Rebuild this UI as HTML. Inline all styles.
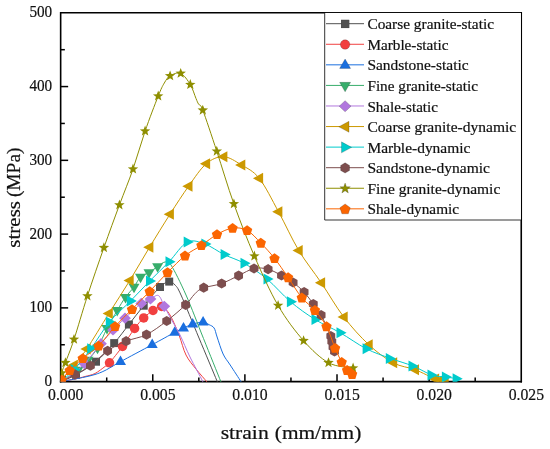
<!DOCTYPE html>
<html lang="en"><head><meta charset="utf-8"><title>Stress-strain curves</title>
<style>html,body{margin:0;padding:0;background:#fff}body{width:550px;height:449px;overflow:hidden}svg{display:block}</style>
</head><body>
<svg width="550" height="449" viewBox="0 0 550 449">
<defs>
<g id="m-square"><rect x="-4.0" y="-4.0" width="8.0" height="8.0"/></g>
<g id="m-circle"><circle r="4.75"/></g>
<g id="m-up"><path d="M0,-6.1 L5.5,3.3 L-5.5,3.3Z"/></g>
<g id="m-down"><path d="M0,6.2 L5.5,-3.3 L-5.5,-3.3Z"/></g>
<g id="m-diamond"><path d="M0,-5.6 L5.9,0 L0,5.6 L-5.9,0Z"/></g>
<g id="m-left"><path d="M-6.3,0 L3.9,-5.5 L3.9,5.5Z"/></g>
<g id="m-right"><path d="M6.5,0 L-3.6,-5.5 L-3.6,5.5Z"/></g>
<g id="m-hexagon"><path d="M0,-5.1 L4.42,-2.55 L4.42,2.55 L0,5.1 L-4.42,2.55 L-4.42,-2.55Z"/></g>
<g id="m-star"><path d="M0,-5.5 L1.35,-1.86 L5.23,-1.7 L2.19,0.71 L3.23,4.45 L0,2.3 L-3.23,4.45 L-2.19,0.71 L-5.23,-1.7 L-1.35,-1.86Z"/></g>
<g id="m-pentagon"><path d="M0,-5.15 L5.18,-1.38 L3.2,4.71 L-3.2,4.71 L-5.18,-1.38Z"/></g>
<clipPath id="cp"><rect x="60.65" y="12.8" width="460.6" height="368.85"/></clipPath>
</defs>
<rect width="550" height="449" fill="#fff"/>
<g stroke="#000" stroke-width="1.6" fill="none" stroke-linecap="square">
<path d="M60.65,381.65 V12.8 H521.25 V381.65"/>
<path d="M60.65,381.65 H521.25"/>
</g>
<g stroke="#000" stroke-width="1.5" fill="none">
<path d="M106.71,381.65 v-4.2"/>
<path d="M152.77,381.65 v-7.5"/>
<path d="M198.83,381.65 v-4.2"/>
<path d="M244.89,381.65 v-7.5"/>
<path d="M290.95,381.65 v-4.2"/>
<path d="M337.01,381.65 v-7.5"/>
<path d="M383.07,381.65 v-4.2"/>
<path d="M429.13,381.65 v-7.5"/>
<path d="M475.19,381.65 v-4.2"/>
<path d="M60.65,344.76 h4.2"/>
<path d="M60.65,307.88 h7.5"/>
<path d="M60.65,271 h4.2"/>
<path d="M60.65,234.11 h7.5"/>
<path d="M60.65,197.22 h4.2"/>
<path d="M60.65,160.34 h7.5"/>
<path d="M60.65,123.45 h4.2"/>
<path d="M60.65,86.57 h7.5"/>
<path d="M60.65,49.69 h4.2"/>
</g>
<g clip-path="url(#cp)">
<g fill="#515151" stroke="none">
<path d="M60.65,381.65 C63.21,380.51 70.11,378.12 76,374.8 C81.89,371.48 89.63,366.98 96,361.7 C102.37,356.42 108.72,349.3 114.2,343.1 C119.68,336.9 123.98,330.73 128.9,324.5 C133.82,318.27 138.52,311.95 143.7,305.7 C148.88,299.45 155.75,291.02 160,287 C164.25,282.98 166.7,281.93 169.2,281.6 C171.7,281.27 173.03,282.77 175,285 C176.97,287.23 177,286.17 181,295 C185,303.83 193,323.67 199,338 C205,352.33 213.83,373.33 217,381 C220.17,388.67 217.83,383.5 218,384" fill="none" stroke="#515151" stroke-width="1.0" stroke-linejoin="round"/>
<use href="#m-square" x="62" y="380"/>
<use href="#m-square" x="76" y="374.8"/>
<use href="#m-square" x="96" y="361.7"/>
<use href="#m-square" x="114.2" y="343.1"/>
<use href="#m-square" x="128.9" y="324.5"/>
<use href="#m-square" x="143.7" y="305.7"/>
<use href="#m-square" x="160" y="287"/>
<use href="#m-square" x="169.2" y="281.6"/>
</g>
<g fill="#F14040" stroke="none">
<path d="M60.65,381.65 C63.04,381.21 70.94,379.86 75,379 C79.06,378.14 81.67,377.42 85,376.5 C88.33,375.58 91.67,375.17 95,373.5 C98.33,371.83 102.58,368.28 105,366.5 C107.42,364.72 106.58,366.15 109.5,362.8 C112.42,359.45 118.32,352.13 122.5,346.4 C126.68,340.67 131.07,333.15 134.6,328.4 C138.13,323.65 140.63,320.88 143.7,317.9 C146.77,314.92 150.02,312.4 153,310.5 C155.98,308.6 158.77,305.75 161.6,306.5 C164.43,307.25 167.1,310.25 170,315 C172.9,319.75 176.33,328.33 179,335 C181.67,341.67 183.17,349.33 186,355 C188.83,360.67 192.5,364.5 196,369 C199.5,373.5 205,379.5 207,382 C209,384.5 207.83,383.67 208,384" fill="none" stroke="#F14040" stroke-width="1.0" stroke-linejoin="round"/>
<use href="#m-circle" x="109.5" y="362.8"/>
<use href="#m-circle" x="122.5" y="346.4"/>
<use href="#m-circle" x="134.6" y="328.4"/>
<use href="#m-circle" x="143.7" y="317.9"/>
<use href="#m-circle" x="153" y="310.5"/>
<use href="#m-circle" x="161.6" y="306.5"/>
</g>
<g fill="#1A6FDF" stroke="none">
<path d="M60.65,381.65 C63.04,381.21 70.94,379.77 75,379 C79.06,378.23 81.67,377.75 85,377 C88.33,376.25 91.67,375.58 95,374.5 C98.33,373.42 100.75,372.63 105,370.5 C109.25,368.37 112.63,366 120.5,361.7 C128.37,357.4 143.17,349.58 152.2,344.7 C161.23,339.82 169.48,335.17 174.7,332.4 C179.92,329.63 180.5,329.48 183.5,328.1 C186.5,326.72 189.43,325.1 192.7,324.1 C195.97,323.1 200.37,322 203.1,322.1 C205.83,322.2 207.27,323.72 209.1,324.7 C210.93,325.68 212.77,325.95 214.1,328 C215.43,330.05 215.6,332.67 217.1,337 C218.6,341.33 220.92,349.33 223.1,354 C225.28,358.67 227.18,360.33 230.2,365 C233.22,369.67 239.23,378.83 241.2,382 C243.17,385.17 241.87,383.67 242,384" fill="none" stroke="#1A6FDF" stroke-width="1.0" stroke-linejoin="round"/>
<use href="#m-up" x="120.5" y="361.7"/>
<use href="#m-up" x="152.2" y="344.7"/>
<use href="#m-up" x="174.7" y="332.4"/>
<use href="#m-up" x="183.5" y="328.1"/>
<use href="#m-up" x="192.7" y="324.1"/>
<use href="#m-up" x="203.1" y="322.1"/>
</g>
<g fill="#37AD6B" stroke="none">
<path d="M60.65,381.65 C63.54,379.71 73.44,373.61 78,370 C82.56,366.39 84.75,363.67 88,360 C91.25,356.33 94.33,353.27 97.5,348 C100.67,342.73 103.72,334.67 107,328.4 C110.28,322.13 114.12,315.6 117.2,310.4 C120.28,305.2 122.7,301.1 125.5,297.2 C128.3,293.3 131.5,290.37 134,287 C136.5,283.63 138,279.42 140.5,277 C143,274.58 146.15,274.25 149,272.5 C151.85,270.75 154.93,268.25 157.6,266.5 C160.27,264.75 162.77,262.25 165,262 C167.23,261.75 167.5,259.5 171,265 C174.5,270.5 180.58,282.75 186,295 C191.42,307.25 197.67,324 203.5,338.5 C209.33,353 217.92,374.42 221,382 C224.08,389.58 221.83,383.67 222,384" fill="none" stroke="#37AD6B" stroke-width="1.0" stroke-linejoin="round"/>
<use href="#m-down" x="78" y="370"/>
<use href="#m-down" x="88" y="360"/>
<use href="#m-down" x="97.5" y="348"/>
<use href="#m-down" x="107" y="328.4"/>
<use href="#m-down" x="117.2" y="310.4"/>
<use href="#m-down" x="125.5" y="297.2"/>
<use href="#m-down" x="134" y="287"/>
<use href="#m-down" x="140.5" y="277"/>
<use href="#m-down" x="149" y="272.5"/>
<use href="#m-down" x="157.6" y="266.5"/>
</g>
<g fill="#B177DE" stroke="none">
<path d="M60.65,381.65 C62.21,380.71 66.04,378.99 70,376 C73.96,373.01 79.23,369.08 84.4,363.7 C89.57,358.32 96.23,349.32 101,343.7 C105.77,338.08 109,334.25 113,330 C117,325.75 120.28,322.63 125,318.2 C129.72,313.77 137.05,306.62 141.3,303.4 C145.55,300.18 147.63,300.2 150.5,298.9 C153.37,297.6 156.2,294.37 158.5,295.6 C160.8,296.83 162.38,302.73 164.3,306.3 C166.22,309.87 167.38,312.22 170,317 C172.62,321.78 176.67,328.33 180,335 C183.33,341.67 186.25,349.33 190,357 C193.75,364.67 200.25,376.5 202.5,381 C204.75,385.5 203.33,383.5 203.5,384" fill="none" stroke="#B177DE" stroke-width="1.0" stroke-linejoin="round"/>
<use href="#m-diamond" x="84.4" y="363.7"/>
<use href="#m-diamond" x="101" y="343.7"/>
<use href="#m-diamond" x="113" y="330"/>
<use href="#m-diamond" x="125" y="318.2"/>
<use href="#m-diamond" x="141.3" y="303.4"/>
<use href="#m-diamond" x="150.5" y="298.9"/>
<use href="#m-diamond" x="164.3" y="306.3"/>
</g>
<g fill="#CC9900" stroke="none">
<path d="M60.65,381.65 C62.84,378.92 69.46,370.74 73.8,365.3 C78.14,359.86 80.85,357.63 86.7,349 C92.55,340.37 101.72,324.92 108.9,313.5 C116.08,302.08 123.03,291.53 129.8,280.5 C136.57,269.47 142.8,258.35 149.5,247.3 C156.2,236.25 163.48,224.38 170,214.2 C176.52,204.02 182.57,194.6 188.6,186.2 C194.63,177.8 200.38,168.72 206.2,163.8 C212.02,158.88 217.63,156.52 223.5,156.7 C229.37,156.88 235.45,161.3 241.4,164.9 C247.35,168.5 253.02,170.5 259.2,178.3 C265.38,186.1 271.9,199.67 278.5,211.7 C285.1,223.73 291.68,238.67 298.8,250.5 C305.92,262.33 313.7,271.62 321.2,282.7 C328.7,293.78 335.87,306.67 343.8,317 C351.73,327.33 360.55,337.07 368.8,344.7 C377.05,352.33 385.58,358.63 393.3,362.8 C401.02,366.97 408.12,367 415.1,369.7 C422.08,372.4 431.05,377.25 435.2,379 C439.35,380.75 438.4,379.88 440,380.2 C441.6,380.52 444,380.78 444.8,380.9" fill="none" stroke="#CC9900" stroke-width="1.0" stroke-linejoin="round"/>
<use href="#m-left" x="73.8" y="365.3"/>
<use href="#m-left" x="86.7" y="349"/>
<use href="#m-left" x="108.9" y="313.5"/>
<use href="#m-left" x="129.8" y="280.5"/>
<use href="#m-left" x="149.5" y="247.3"/>
<use href="#m-left" x="170" y="214.2"/>
<use href="#m-left" x="188.6" y="186.2"/>
<use href="#m-left" x="206.2" y="163.8"/>
<use href="#m-left" x="223.5" y="156.7"/>
<use href="#m-left" x="241.4" y="164.9"/>
<use href="#m-left" x="259.2" y="178.3"/>
<use href="#m-left" x="278.5" y="211.7"/>
<use href="#m-left" x="298.8" y="250.5"/>
<use href="#m-left" x="321.2" y="282.7"/>
<use href="#m-left" x="343.8" y="317"/>
<use href="#m-left" x="368.8" y="344.7"/>
<use href="#m-left" x="393.3" y="362.8"/>
<use href="#m-left" x="415.1" y="369.7"/>
<use href="#m-left" x="435.2" y="379"/>
<use href="#m-left" x="440" y="380.2"/>
<use href="#m-left" x="444.8" y="380.9"/>
</g>
<g fill="#00CBCC" stroke="none">
<path d="M60.65,381.65 C62.91,379.62 69.17,374.98 74.2,369.5 C79.23,364.02 84.93,356.7 90.8,348.8 C96.67,340.9 102.8,330.05 109.4,322.1 C116,314.15 123.7,307.93 130.4,301.1 C137.1,294.27 143.15,287.67 149.6,281.1 C156.05,274.53 162.82,268.2 169.1,261.7 C175.38,255.2 181.32,245.03 187.3,242.1 C193.28,239.17 198.85,242.02 205,244.1 C211.15,246.18 217.68,251.4 224.2,254.6 C230.72,257.8 236.95,259.22 244.1,263.3 C251.25,267.38 259.37,272.7 267.1,279.1 C274.83,285.5 282.5,294.97 290.5,301.7 C298.5,308.43 306.83,314.33 315.1,319.5 C323.37,324.67 331.58,327.83 340.1,332.7 C348.62,337.57 357.82,344.42 366.2,348.7 C374.58,352.98 382.58,355.5 390.4,358.4 C398.22,361.3 406.15,363.32 413.1,366.1 C420.05,368.88 426.53,373.27 432.1,375.1 C437.67,376.93 442.32,376.5 446.5,377.1 C450.68,377.7 455.42,378.43 457.2,378.7" fill="none" stroke="#00CBCC" stroke-width="1.0" stroke-linejoin="round"/>
<use href="#m-right" x="74.2" y="369.5"/>
<use href="#m-right" x="90.8" y="348.8"/>
<use href="#m-right" x="109.4" y="322.1"/>
<use href="#m-right" x="130.4" y="301.1"/>
<use href="#m-right" x="149.6" y="281.1"/>
<use href="#m-right" x="169.1" y="261.7"/>
<use href="#m-right" x="187.3" y="242.1"/>
<use href="#m-right" x="205" y="244.1"/>
<use href="#m-right" x="224.2" y="254.6"/>
<use href="#m-right" x="244.1" y="263.3"/>
<use href="#m-right" x="267.1" y="279.1"/>
<use href="#m-right" x="290.5" y="301.7"/>
<use href="#m-right" x="315.1" y="319.5"/>
<use href="#m-right" x="340.1" y="332.7"/>
<use href="#m-right" x="366.2" y="348.7"/>
<use href="#m-right" x="389.4" y="358.4"/>
<use href="#m-right" x="412.1" y="366.1"/>
<use href="#m-right" x="431.1" y="375.1"/>
<use href="#m-right" x="445.5" y="377.1"/>
<use href="#m-right" x="456.2" y="378.7"/>
</g>
<g fill="#7D4E4E" stroke="none">
<path d="M60.65,381.65 C63.04,380.44 70.04,377.06 75,374.4 C79.96,371.74 84.97,369.63 90.4,365.7 C95.83,361.77 101.65,354.88 107.6,350.8 C113.55,346.72 119.62,343.9 126.1,341.2 C132.58,338.5 139.73,337.97 146.5,334.6 C153.27,331.23 160.18,325.95 166.7,321 C173.22,316.05 181.28,309 185.6,304.9 C189.92,300.8 190.6,298.68 192.6,296.4 C194.6,294.12 195.75,292.65 197.6,291.2 C199.45,289.75 199.7,288.98 203.7,287.7 C207.7,286.42 215.78,285.52 221.6,283.5 C227.42,281.48 233.2,278.1 238.6,275.6 C244,273.1 249.08,269.57 254,268.5 C258.92,267.43 263.52,268.03 268.1,269.2 C272.68,270.37 277.33,273.28 281.5,275.5 C285.67,277.72 289.33,279.73 293.1,282.5 C296.87,285.27 300.73,288.52 304.1,292.1 C307.47,295.68 310.47,300.17 313.3,304 C316.13,307.83 318.18,309.77 321.1,315.1 C324.02,320.43 329.02,331.6 330.8,336 C332.58,340.4 331.43,339.67 331.8,341.5 C332.17,343.33 332.55,345.33 333,347 C333.45,348.67 334.25,350.75 334.5,351.5" fill="none" stroke="#7D4E4E" stroke-width="1.0" stroke-linejoin="round"/>
<use href="#m-hexagon" x="75" y="374.4"/>
<use href="#m-hexagon" x="90.4" y="365.7"/>
<use href="#m-hexagon" x="107.6" y="350.8"/>
<use href="#m-hexagon" x="126.1" y="341.2"/>
<use href="#m-hexagon" x="146.5" y="334.6"/>
<use href="#m-hexagon" x="166.7" y="321"/>
<use href="#m-hexagon" x="185.6" y="304.9"/>
<use href="#m-hexagon" x="203.7" y="287.7"/>
<use href="#m-hexagon" x="221.6" y="283.5"/>
<use href="#m-hexagon" x="238.6" y="275.6"/>
<use href="#m-hexagon" x="254" y="268.5"/>
<use href="#m-hexagon" x="268.1" y="269.2"/>
<use href="#m-hexagon" x="281.5" y="275.5"/>
<use href="#m-hexagon" x="293.1" y="282.5"/>
<use href="#m-hexagon" x="304.1" y="292.1"/>
<use href="#m-hexagon" x="313.3" y="304"/>
<use href="#m-hexagon" x="321.1" y="315.1"/>
<use href="#m-hexagon" x="330.8" y="336"/>
<use href="#m-hexagon" x="331.8" y="341.5"/>
<use href="#m-hexagon" x="333" y="347"/>
<use href="#m-hexagon" x="334.5" y="351.5"/>
</g>
<g fill="#8E8E00" stroke="none">
<path d="M60.65,381.65 C60.83,380.21 60.91,376.16 61.7,373 C62.49,369.84 63.35,368.3 65.4,362.7 C67.45,357.1 70.33,350.52 74,339.4 C77.67,328.28 82.42,311.28 87.4,296 C92.38,280.72 98.57,262.87 103.9,247.7 C109.23,232.53 114.55,218.1 119.4,205 C124.25,191.9 128.72,181.42 133,169.1 C137.28,156.78 140.9,143.27 145.1,131.1 C149.3,118.93 155,104.12 158.2,96.1 C161.4,88.08 162.32,86.37 164.3,83 C166.28,79.63 167.37,77.5 170.1,75.9 C172.83,74.3 177.33,71.95 180.7,73.4 C184.07,74.85 187.75,80.42 190.3,84.6 C192.85,88.78 194.62,95.23 196,98.5 C197.38,101.77 197.47,102.25 198.6,104.2 C199.73,106.15 199.77,102.35 202.8,110.2 C205.83,118.05 211.62,135.68 216.8,151.3 C221.98,166.92 227.63,186.43 233.9,203.9 C240.17,221.37 247.03,239.17 254.4,256.1 C261.77,273.03 269.9,291.4 278.1,305.5 C286.3,319.6 295.2,331.17 303.6,340.7 C312,350.23 320.25,358.13 328.5,362.7 C336.75,367.27 349,367.2 353.1,368.1" fill="none" stroke="#8E8E00" stroke-width="1.0" stroke-linejoin="round"/>
<use href="#m-star" x="61.7" y="373"/>
<use href="#m-star" x="65.4" y="362.7"/>
<use href="#m-star" x="74" y="339.4"/>
<use href="#m-star" x="87.4" y="296"/>
<use href="#m-star" x="103.9" y="247.7"/>
<use href="#m-star" x="119.4" y="205"/>
<use href="#m-star" x="133" y="169.1"/>
<use href="#m-star" x="145.1" y="131.1"/>
<use href="#m-star" x="158.2" y="96.1"/>
<use href="#m-star" x="170.1" y="75.9"/>
<use href="#m-star" x="180.7" y="73.4"/>
<use href="#m-star" x="190.3" y="84.6"/>
<use href="#m-star" x="202.8" y="110.2"/>
<use href="#m-star" x="216.8" y="151.3"/>
<use href="#m-star" x="233.9" y="203.9"/>
<use href="#m-star" x="254.4" y="256.1"/>
<use href="#m-star" x="278.1" y="305.5"/>
<use href="#m-star" x="303.6" y="340.7"/>
<use href="#m-star" x="328.5" y="362.7"/>
<use href="#m-star" x="353.1" y="368.1"/>
</g>
<g fill="#FB6501" stroke="none">
<path d="M61.7,379.8 C63.03,378.23 66.2,373.97 69.7,370.4 C73.2,366.83 77.88,362.48 82.7,358.4 C87.52,354.32 93.2,351.25 98.6,345.9 C104,340.55 109.53,332.4 115.1,326.3 C120.67,320.2 126.23,315.12 132,309.3 C137.77,303.48 143.78,297.53 149.7,291.4 C155.62,285.27 161.62,278.45 167.5,272.5 C173.38,266.55 179.35,260.22 185,255.7 C190.65,251.18 196.07,248.95 201.4,245.4 C206.73,241.85 211.8,237.28 217,234.4 C222.2,231.52 227.58,228.77 232.6,228.1 C237.62,227.43 242.4,227.92 247.1,230.4 C251.8,232.88 256.23,238.35 260.8,243 C265.37,247.65 269.95,252.55 274.5,258.3 C279.05,264.05 283.55,270.93 288.1,277.5 C292.65,284.07 297.33,292.25 301.8,297.7 C306.27,303.15 310.78,305.4 314.9,310.2 C319.02,315 323.13,320.18 326.5,326.5 C329.87,332.82 332.57,342.17 335.1,348.1 C337.63,354.03 339.7,358.42 341.7,362.1 C343.7,365.78 345.37,368.18 347.1,370.2 C348.83,372.22 351.27,373.53 352.1,374.2" fill="none" stroke="#FB6501" stroke-width="1.0" stroke-linejoin="round"/>
<use href="#m-pentagon" x="61.7" y="379.8"/>
<use href="#m-pentagon" x="69.7" y="370.4"/>
<use href="#m-pentagon" x="82.7" y="358.4"/>
<use href="#m-pentagon" x="98.6" y="345.9"/>
<use href="#m-pentagon" x="115.1" y="326.3"/>
<use href="#m-pentagon" x="132" y="309.3"/>
<use href="#m-pentagon" x="149.7" y="291.4"/>
<use href="#m-pentagon" x="167.5" y="272.5"/>
<use href="#m-pentagon" x="185" y="255.7"/>
<use href="#m-pentagon" x="201.4" y="245.4"/>
<use href="#m-pentagon" x="217" y="234.4"/>
<use href="#m-pentagon" x="232.6" y="228.1"/>
<use href="#m-pentagon" x="247.1" y="230.4"/>
<use href="#m-pentagon" x="260.8" y="243"/>
<use href="#m-pentagon" x="274.5" y="258.3"/>
<use href="#m-pentagon" x="288.1" y="277.5"/>
<use href="#m-pentagon" x="301.8" y="297.7"/>
<use href="#m-pentagon" x="314.9" y="310.2"/>
<use href="#m-pentagon" x="326.5" y="326.5"/>
<use href="#m-pentagon" x="335.1" y="348.1"/>
<use href="#m-pentagon" x="341.7" y="362.1"/>
<use href="#m-pentagon" x="347.1" y="370.2"/>
<use href="#m-pentagon" x="352.1" y="374.2"/>
</g>
</g>
<g font-family="'Liberation Serif', 'DejaVu Serif', serif" font-size="16.5" fill="#111" stroke="#111" stroke-width="0.2">
<text x="65.75" y="400.0" text-anchor="middle" textLength="35.4" lengthAdjust="spacingAndGlyphs">0.000</text>
<text x="157.87" y="400.0" text-anchor="middle" textLength="35.4" lengthAdjust="spacingAndGlyphs">0.005</text>
<text x="249.99" y="400.0" text-anchor="middle" textLength="35.4" lengthAdjust="spacingAndGlyphs">0.010</text>
<text x="342.11" y="400.0" text-anchor="middle" textLength="35.4" lengthAdjust="spacingAndGlyphs">0.015</text>
<text x="434.23" y="400.0" text-anchor="middle" textLength="35.4" lengthAdjust="spacingAndGlyphs">0.020</text>
<text x="526.35" y="400.0" text-anchor="middle" textLength="35.4" lengthAdjust="spacingAndGlyphs">0.025</text>
<text x="52.2" y="386.15" text-anchor="end" textLength="7.6" lengthAdjust="spacingAndGlyphs">0</text>
<text x="52.2" y="312.38" text-anchor="end" textLength="22.8" lengthAdjust="spacingAndGlyphs">100</text>
<text x="52.2" y="238.61" text-anchor="end" textLength="22.8" lengthAdjust="spacingAndGlyphs">200</text>
<text x="52.2" y="164.84" text-anchor="end" textLength="22.8" lengthAdjust="spacingAndGlyphs">300</text>
<text x="52.2" y="91.07" text-anchor="end" textLength="22.8" lengthAdjust="spacingAndGlyphs">400</text>
<text x="52.2" y="17.3" text-anchor="end" textLength="22.8" lengthAdjust="spacingAndGlyphs">500</text>
</g>
<text font-family="'Liberation Serif', 'DejaVu Serif', serif" font-size="18.5" fill="#111" stroke="#111" stroke-width="0.2" y="438.5"><tspan x="220.7" textLength="48" lengthAdjust="spacingAndGlyphs">strain</tspan> <tspan x="274.8" textLength="86.5" lengthAdjust="spacingAndGlyphs">(mm/mm)</tspan></text>
<text font-family="'Liberation Serif', 'DejaVu Serif', serif" font-size="18.5" fill="#111" stroke="#111" stroke-width="0.2" transform="translate(19.6,247.7) rotate(-90)"><tspan x="0" textLength="46.7" lengthAdjust="spacingAndGlyphs">stress</tspan> <tspan x="50.6" textLength="49.6" lengthAdjust="spacingAndGlyphs">(MPa)</tspan></text>
<rect x="324.7" y="12.95" width="196.25" height="207.05" fill="#fff"/>
<path d="M324.7,12.9 V220 H520.95" fill="none" stroke="#2a2a2a" stroke-width="0.95"/>
<g font-family="'Liberation Serif', 'DejaVu Serif', serif" font-size="14.8" fill="#111" stroke="#111" stroke-width="0.2">
<path d="M326,23.7 H364" stroke="#515151" stroke-width="1.0" fill="none"/>
<use href="#m-square" x="345.1" y="23.95" fill="#515151"/>
<text x="367.4" y="29.3" textLength="126.6" lengthAdjust="spacingAndGlyphs">Coarse granite-static</text>
<path d="M326,44.27 H364" stroke="#F14040" stroke-width="1.0" fill="none"/>
<use href="#m-circle" x="345.1" y="44.52" fill="#F14040"/>
<text x="367.4" y="49.87" textLength="81.2" lengthAdjust="spacingAndGlyphs">Marble-static</text>
<path d="M326,64.84 H364" stroke="#1A6FDF" stroke-width="1.0" fill="none"/>
<use href="#m-up" x="345.1" y="65.09" fill="#1A6FDF"/>
<text x="367.4" y="70.44" textLength="101.2" lengthAdjust="spacingAndGlyphs">Sandstone-static</text>
<path d="M326,85.41 H364" stroke="#37AD6B" stroke-width="1.0" fill="none"/>
<use href="#m-down" x="345.1" y="85.66" fill="#37AD6B"/>
<text x="367.4" y="91.01" textLength="110.6" lengthAdjust="spacingAndGlyphs">Fine granite-static</text>
<path d="M326,105.98 H364" stroke="#B177DE" stroke-width="1.0" fill="none"/>
<use href="#m-diamond" x="345.1" y="106.23" fill="#B177DE"/>
<text x="367.4" y="111.58" textLength="70.6" lengthAdjust="spacingAndGlyphs">Shale-static</text>
<path d="M326,126.55 H364" stroke="#CC9900" stroke-width="1.0" fill="none"/>
<use href="#m-left" x="345.1" y="126.8" fill="#CC9900"/>
<text x="367.4" y="132.15" textLength="148.8" lengthAdjust="spacingAndGlyphs">Coarse granite-dynamic</text>
<path d="M326,147.12 H364" stroke="#00CBCC" stroke-width="1.0" fill="none"/>
<use href="#m-right" x="345.1" y="147.37" fill="#00CBCC"/>
<text x="367.4" y="152.72" textLength="103" lengthAdjust="spacingAndGlyphs">Marble-dynamic</text>
<path d="M326,167.69 H364" stroke="#7D4E4E" stroke-width="1.0" fill="none"/>
<use href="#m-hexagon" x="345.1" y="167.94" fill="#7D4E4E"/>
<text x="367.4" y="173.29" textLength="122.6" lengthAdjust="spacingAndGlyphs">Sandstone-dynamic</text>
<path d="M326,188.26 H364" stroke="#8E8E00" stroke-width="1.0" fill="none"/>
<use href="#m-star" x="345.1" y="188.51" fill="#8E8E00"/>
<text x="367.4" y="193.86" textLength="132.9" lengthAdjust="spacingAndGlyphs">Fine granite-dynamic</text>
<path d="M326,208.83 H364" stroke="#FB6501" stroke-width="1.0" fill="none"/>
<use href="#m-pentagon" x="345.1" y="209.08" fill="#FB6501"/>
<text x="367.4" y="214.43" textLength="91.7" lengthAdjust="spacingAndGlyphs">Shale-dynamic</text>
</g>
</svg>
</body></html>
